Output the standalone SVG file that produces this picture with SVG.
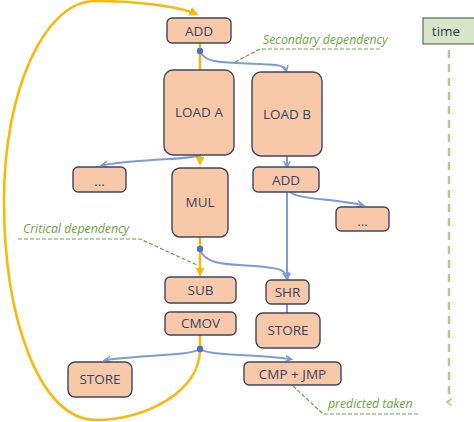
<svg xmlns="http://www.w3.org/2000/svg" width="474" height="422" viewBox="0 0 474 422">
<defs>
<style>
.box{fill:#f8c9a8;stroke:#3e4563;stroke-width:1.4}
.t{font-family:"Open Sans","Liberation Sans",sans-serif;font-size:13.5px;fill:#3b4262;text-anchor:middle}
.lbl{font-family:"Open Sans","Liberation Sans",sans-serif;font-size:12.3px;font-style:italic;fill:#6aa642}
.blue{fill:none;stroke:#7e9bd6;stroke-width:2}
.yel{fill:none;stroke:#f7b90c;stroke-width:2.6}
.gd{fill:none;stroke:#6aa642;stroke-width:1.2;stroke-dasharray:4 2}
</style>
<marker id="ab" viewBox="0 0 10 10" refX="6" refY="5" markerWidth="4" markerHeight="4" orient="auto-start-reverse" markerUnits="strokeWidth"><path d="M0,1 L8,5 L0,9" fill="none" stroke="#7e9bd6" stroke-width="2"/></marker>
<marker id="ay" viewBox="0 0 10 10" refX="7" refY="5" markerWidth="3.5" markerHeight="3.5" orient="auto" markerUnits="strokeWidth"><path d="M0,0 L10,5 L0,10 z" fill="#f7b90c"/></marker>
<marker id="at" viewBox="0 0 10 10" refX="5" refY="5" markerWidth="3" markerHeight="3" orient="auto" markerUnits="strokeWidth"><path d="M0,1 L5,8 L10,1" fill="none" stroke="#a9cf8c" stroke-width="2"/></marker>
</defs>
<g id="connectors">
<path class="yel" d="M200,349 C200,392 145,420 96,420 C40,420 4,320 4,200 C4,90 45,1 95,1 C135,1 178,6 196,14" marker-end="url(#ay)"/>
<path class="yel" d="M200,43 L200,70"/>
<path class="yel" d="M200,155 L200,163" marker-end="url(#ay)"/>
<path class="yel" d="M200,237 L200,274" marker-end="url(#ay)"/>
<path class="yel" d="M200,335 L200,349"/>
<path class="blue" d="M200,51 C205,65 230,62 260,64 C280,65 285,66 286,70" marker-end="url(#ab)"/>
<path class="blue" d="M200,155 C190,160 150,158 103,165" marker-end="url(#ab)"/>
<path class="blue" d="M287,156 L287,166" marker-end="url(#ab)"/>
<path class="blue" d="M290,192 C300,200 330,198 362,205" marker-end="url(#ab)"/>
<path class="blue" d="M287,192 L287,278" marker-end="url(#ab)"/>
<path class="blue" d="M200,249 C205,266 230,264 255,266 C280,268 285,270 287,277" marker-end="url(#ab)"/>
<path class="blue" d="M287,304 L287,313"/>
<path class="blue" d="M200,349 C190,356 150,354 106,360" marker-end="url(#ab)"/>
<path class="blue" d="M200,349 C210,356 250,354 290,359" marker-end="url(#ab)"/>
<circle cx="200" cy="51" r="3.2" fill="#4a72c8"/>
<circle cx="200" cy="249" r="3.2" fill="#4a72c8"/>
<circle cx="200" cy="349" r="3.2" fill="#4a72c8"/>
<path class="gd" d="M235,62 L260,49 L380,49"/>
<path class="gd" d="M18,239 L140,239 L197,265"/>
<path class="gd" d="M293,386 L323,414 L418,414"/>
<path d="M449,50 L449,402" fill="none" stroke="#a9cf8c" stroke-width="2.4" stroke-dasharray="8 6" marker-end="url(#at)"/>
</g>
<g id="add1"><rect class="box" x="167" y="18" width="64" height="25" rx="5"/><text class="t" x="199" y="35.5">ADD</text></g>
<g id="loada"><rect class="box" x="164" y="70" width="70" height="85" rx="9"/><text class="t" x="199" y="117">LOAD A</text></g>
<g id="loadb"><rect class="box" x="252" y="72" width="70" height="84" rx="9"/><text class="t" x="287" y="119">LOAD B</text></g>
<g id="dots1"><rect class="box" x="73" y="167" width="53" height="25" rx="5"/><text class="t" x="99.5" y="186">...</text></g>
<g id="mul"><rect class="box" x="172" y="168" width="56" height="69" rx="8"/><text class="t" x="200" y="207">MUL</text></g>
<g id="add2"><rect class="box" x="253" y="167" width="66" height="25" rx="5"/><text class="t" x="286" y="184.5">ADD</text></g>
<g id="dots2"><rect class="box" x="336" y="207" width="53" height="24" rx="5"/><text class="t" x="362.5" y="226">...</text></g>
<g id="sub"><rect class="box" x="165" y="277" width="71" height="26" rx="5"/><text class="t" x="200.5" y="295">SUB</text></g>
<g id="shr"><rect class="box" x="266" y="280" width="43" height="24" rx="5"/><text class="t" x="287.5" y="297">SHR</text></g>
<g id="cmov"><rect class="box" x="165" y="312" width="71" height="23" rx="5"/><text class="t" x="200.5" y="328">CMOV</text></g>
<g id="store2"><rect class="box" x="256" y="313" width="64" height="35" rx="7"/><text class="t" x="288" y="335">STORE</text></g>
<g id="store1"><rect class="box" x="68" y="362" width="64" height="35" rx="7"/><text class="t" x="100" y="384">STORE</text></g>
<g id="cmpjmp"><rect class="box" x="244" y="362" width="97" height="23" rx="5"/><text class="t" x="292.5" y="378.5">CMP + JMP</text></g>
<g id="time"><rect x="423" y="18" width="52" height="26" fill="#d6e6c6" stroke="#5c6e5a" stroke-width="1.2"/><text class="t" x="446" y="36" style="fill:#2f3d62">time</text></g>
<g id="labels">
<text class="lbl" x="263" y="44">Secondary dependency</text>
<text class="lbl" x="23" y="233">Critical dependency</text>
<text class="lbl" x="328" y="408">predicted taken</text>
</g>
</svg>
